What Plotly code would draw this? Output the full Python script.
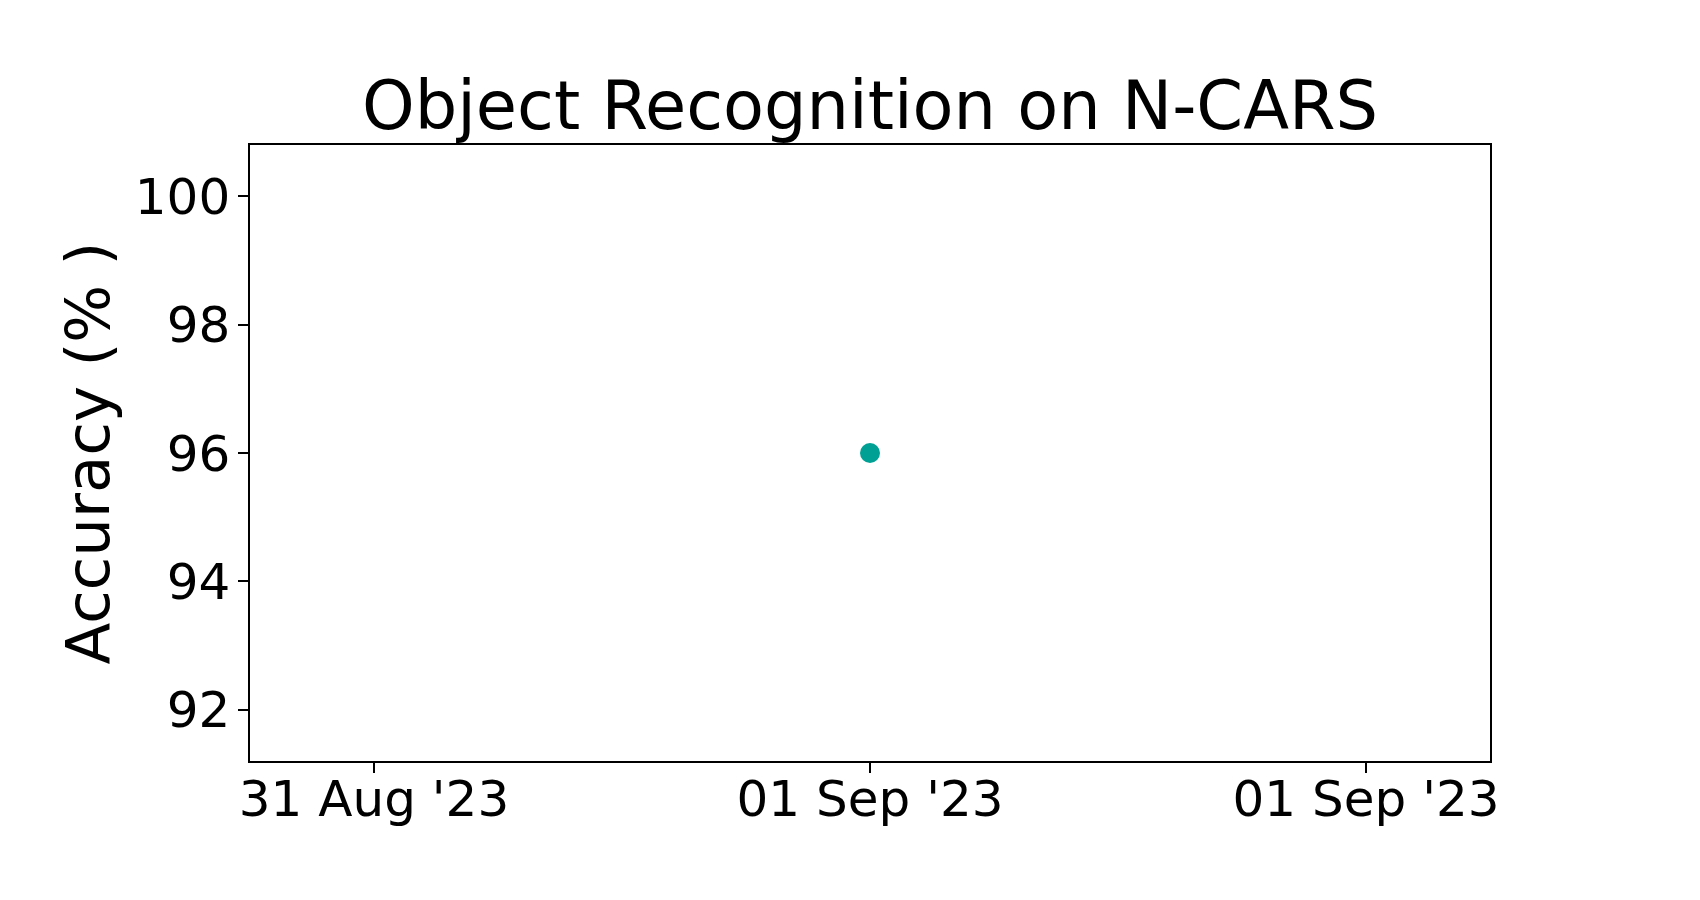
import plotly.graph_objects as go

# Data
dates = ["2023-09-01 00:00"]
accuracy = [96.0]

x_tick_vals = ["2023-08-31 12:00", "2023-09-01 00:00", "2023-09-01 12:00"]
x_range = ["2023-08-31 09:00", "2023-09-01 15:00"]
y_tick_vals = [92, 94, 96, 98, 100]
y_range = [91.2, 100.8]

title_text = "Object Recognition on N-CARS"
y_label = "Accuracy (% )"

FONT = "DejaVu Sans"

fig = go.Figure()
fig.add_trace(go.Scatter(
    x=dates, y=accuracy, mode="markers",
    marker=dict(size=20, color="#00A194"),
    showlegend=False,
))

fig.update_layout(
    width=1700, height=900,
    paper_bgcolor="white", plot_bgcolor="white",
    margin=dict(l=242, r=218, t=137, b=147),
    font=dict(family=FONT, color="black"),
    title=dict(
        text=title_text, x=0.5, xref="paper", xanchor="center",
        y=1, yref="paper", yanchor="bottom", pad=dict(b=16),
        font=dict(size=67, family=FONT, color="black"), automargin=False,
    ),
)

fig.update_xaxes(
    type="date", range=x_range,
    tickmode="array", tickvals=x_tick_vals, tickformat="%d %b '%y",
    ticks="outside", ticklen=10, tickwidth=1.5, tickcolor="black",
    tickfont=dict(size=50, family=FONT, color="black"),
    showline=True, linecolor="black", linewidth=1.5, mirror=True,
    showgrid=False, zeroline=False, ticklabelstandoff=-17, automargin=False,
)
fig.update_yaxes(
    range=y_range,
    tickmode="array", tickvals=y_tick_vals,
    ticks="outside", ticklen=10, tickwidth=1.5, tickcolor="black",
    tickfont=dict(size=50, family=FONT, color="black"),
    showline=True, linecolor="black", linewidth=1.5, mirror=True,
    showgrid=False, zeroline=False, ticklabelstandoff=-2, automargin=False,
    title=dict(text=y_label, font=dict(size=61, family=FONT, color="black"), standoff=5),
)

fig.write_html("out.html")
